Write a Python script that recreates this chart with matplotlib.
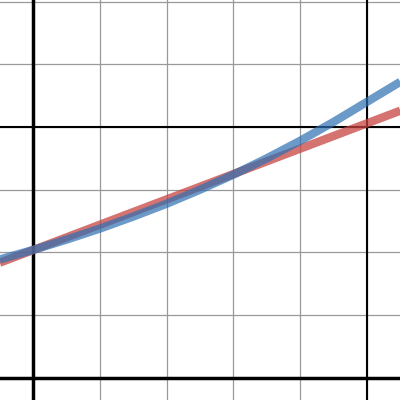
import matplotlib
matplotlib.use("Agg")
import matplotlib.pyplot as plt

blue_x = [-0.1, 0.0, 0.1, 0.2, 0.3, 0.4, 0.5, 0.6, 0.7, 0.8, 0.9, 1.0, 1.1]
blue_y = [0.472, 0.51, 0.551, 0.595, 0.643, 0.694, 0.75, 0.81, 0.875, 0.945, 1.02, 1.10, 1.18]
red_x = [-0.1, 1.1]
red_y = [0.459, 1.065]

fig = plt.figure(figsize=(4, 4), dpi=100)
ax = fig.add_axes([0, 0, 1, 1])
ax.set_xlim(-0.099, 1.099)
ax.set_ylim(-0.088, 1.506)
for i in range(-1, 7):
    ax.axvline(i * 0.2, color="#999999", lw=0.9, zorder=0)
for i in range(-1, 7):
    ax.axhline(i * 0.25, color="#999999", lw=0.9, zorder=0)
ax.axvline(1, color="black", lw=1.5, zorder=1)
ax.axhline(1, color="black", lw=1.5, zorder=1)
ax.axvline(0, color="black", lw=2.5, zorder=1)
ax.axhline(0, color="black", lw=2.5, zorder=1)
ax.plot(red_x, red_y, color="#c74440", lw=6, alpha=0.75, solid_capstyle="butt", zorder=2)
ax.plot(blue_x, blue_y, color="#2d70b3", lw=6, alpha=0.7, solid_capstyle="butt", zorder=3)
ax.axis("off")
fig.savefig("out.png", dpi=100)
